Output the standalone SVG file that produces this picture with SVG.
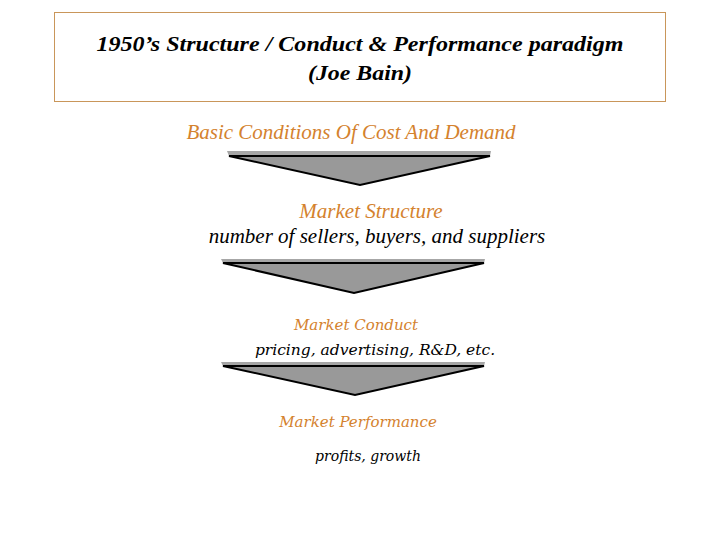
<svg xmlns="http://www.w3.org/2000/svg" width="720" height="540" viewBox="0 0 720 540">
<style>
.title{font-family:"Liberation Serif",serif;font-style:italic;font-weight:bold;font-size:22px;fill:#000;text-anchor:middle}
.lab{font-family:"Liberation Serif",serif;font-style:italic;font-size:21px;fill:#d4822e;text-anchor:middle}
.sub{font-family:"Liberation Serif",serif;font-style:italic;font-size:21px;fill:#000;text-anchor:middle}
.lab2{font-family:"DejaVu Serif",serif;font-style:italic;font-size:15px;fill:#d4822e;text-anchor:middle}
.sub2{font-family:"DejaVu Serif",serif;font-style:italic;font-size:15.5px;fill:#000;text-anchor:middle}
.band{fill:#a6a6a6}
.tri{fill:#999;stroke:#000;stroke-width:2;stroke-linejoin:miter}
</style>
<rect width="720" height="540" fill="#fff"/>
<g id="title">
<rect x="54.5" y="12.5" width="611" height="89" fill="#fff" stroke="#c9965a" stroke-width="1"/>
<text class="title" x="360" y="51" textLength="527" lengthAdjust="spacingAndGlyphs">1950’s Structure / Conduct &amp; Performance paradigm</text>
<text class="title" x="360" y="80" textLength="104" lengthAdjust="spacingAndGlyphs">(Joe Bain)</text>
</g>
<g id="basic">
<text class="lab" x="351" y="139">Basic Conditions Of Cost And Demand</text>
</g>
<g id="structure">
<text class="lab" x="371" y="218">Market Structure</text>
<text class="sub" x="377" y="243">number of sellers, buyers, and suppliers</text>
</g>
<g id="conduct">
<text class="lab2" x="356" y="330">Market Conduct</text>
<text class="sub2" x="375" y="355">pricing, advertising, R&amp;D, etc.</text>
</g>
<g id="performance">
<text class="lab2" x="358" y="427">Market  Performance</text>
<text class="sub2" x="368" y="461" style="font-size:14px">profits, growth</text>
</g>
<g id="connectors">
<polygon class="band" points="227,151 491,151 490,156 229,156"/>
<polygon class="tri" points="229,156 490,156 360,185"/>
<polygon class="band" points="221,259 485,259 484,263 223,263"/>
<polygon class="tri" points="223,263 484,263 354,293"/>
<polygon class="band" points="221,362 485,362 484,366 223,366"/>
<polygon class="tri" points="223,366 484,366 355,395"/>
</g>
</svg>
